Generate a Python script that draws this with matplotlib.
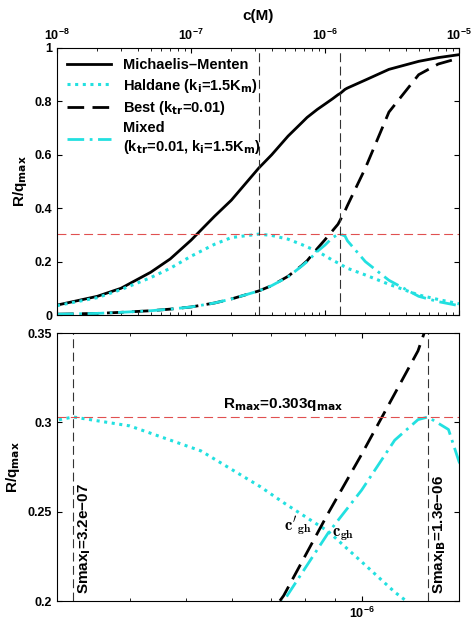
import matplotlib
matplotlib.use("Agg")
import matplotlib.pyplot as plt
from matplotlib.ticker import LogLocator, NullFormatter, FixedLocator

plt.rcParams['font.family'] = ['Liberation Sans', 'DejaVu Sans']
plt.rcParams['font.weight'] = 'bold'
plt.rcParams['mathtext.default'] = 'bf'

c = [1e-8, 2e-8, 3e-8, 5e-8, 7e-8, 1e-7, 1.5e-7, 2e-7, 3.2e-7, 4e-7, 5.3e-7, 6.7e-7,
     7.35e-7, 8.76e-7, 1e-6, 1.14e-6, 1.25e-6, 1.3e-6, 1.41e-6, 1.47e-6,
     2e-6, 3e-6, 5e-6, 7e-6, 1e-5]
mm = [0.037, 0.07, 0.10, 0.16, 0.21, 0.28, 0.37, 0.43, 0.55, 0.60, 0.67, 0.72,
      0.74, 0.77, 0.79, 0.81, 0.825, 0.83, 0.845, 0.85, 0.88, 0.92, 0.95, 0.964, 0.975]
haldane = [0.035, 0.065, 0.095, 0.14, 0.175, 0.22, 0.265, 0.29, 0.303, 0.298, 0.284, 0.264,
           0.255, 0.239, 0.222, 0.205, 0.195, 0.19, 0.18, 0.175, 0.15, 0.115, 0.075, 0.058, 0.042]
best = [0.003, 0.006, 0.01, 0.016, 0.022, 0.03, 0.045, 0.06, 0.09, 0.11, 0.145, 0.185,
        0.203, 0.249, 0.282, 0.316, 0.34, 0.356, 0.39, 0.41, 0.55, 0.76, 0.9, 0.94, 0.962]
mixed = [0.003, 0.006, 0.01, 0.016, 0.022, 0.03, 0.045, 0.06, 0.09, 0.11, 0.143, 0.183,
         0.2, 0.238, 0.262, 0.29, 0.3015, 0.303, 0.296, 0.278, 0.2, 0.13, 0.07, 0.05, 0.035]
rmax = 0.303
smax_i = 3.2e-7
smax_ib = 1.3e-6

fig = plt.figure(figsize=(4.74, 6.2), dpi=100)
ax1 = fig.add_axes([57/474, 1-315/620, 402/474, 267/620])
ax2 = fig.add_axes([57/474, 1-601/620, 402/474, 268/620])

cyan = '#22e0e0'
for ax in (ax1, ax2):
    ax.plot(c, mm, color='black', lw=2, label='Michaelis\u2013Menten')
    ax.plot(c, haldane, color=cyan, lw=2.2, ls=(0, (1, 1.5)), label='Haldane (k$_i$=1.5K$_m$)')
    ax.plot(c, best, color='black', lw=2, ls=(0, (6, 3)), label='Best (k$_{tr}$=0.01)')
    ax.plot(c, mixed, color=cyan, lw=2, ls=(0, (6, 2, 1, 2)),
            label='Mixed\n(k$_{tr}$=0.01, k$_i$=1.5K$_m$)')
    ax.axhline(rmax, color='#e05050', lw=0.8, ls=(0, (8, 4)))
    for v in (smax_i, smax_ib):
        ax.axvline(v, color='#333333', lw=0.8, ls=(0, (8, 4)))
    ax.set_xscale('log')
    ax.set_ylabel('R/q$_{max}$', fontsize=11, fontweight='bold')
    ax.tick_params(which='both', direction='in', top=True, right=True, labelsize=9)

ax1.set_xlim(1e-8, 1e-5)
ax1.set_ylim(0, 1)
ax1.set_yticks([0, 0.2, 0.4, 0.6, 0.8, 1])
ax1.set_yticklabels(['0', '0.2', '0.4', '0.6', '0.8', '1'])
ax1.tick_params(labelbottom=False, labeltop=True)
ax1.xaxis.set_label_position('top')
ax1.set_xlabel('c(M)', fontsize=11, fontweight='bold', labelpad=6)
ax1.legend(loc='upper left', frameon=False, fontsize=10.5, handlelength=3,
           borderaxespad=0.3, labelspacing=0.3)

ax2.set_xlim(3.0e-7, 1.47e-6)
ax2.set_ylim(0.2, 0.35)
ax2.set_yticks([0.2, 0.25, 0.3, 0.35])
ax2.set_yticklabels(['0.2', '0.25', '0.3', '0.35'])
ax2.xaxis.set_major_locator(FixedLocator([1e-6]))
ax2.xaxis.set_minor_locator(LogLocator(subs=range(2, 10)))
ax2.xaxis.set_minor_formatter(NullFormatter())
ax2.text(7.35e-7, 0.3055, 'R$_{max}$=0.303q$_{max}$', fontsize=11, ha='center', va='bottom')
ax2.text(smax_i * 1.012, 0.204, 'Smax$_I$=3.2e\u221207', rotation=90, fontsize=11,
         ha='left', va='bottom')
ax2.text(smax_ib * 1.012, 0.204, 'Smax$_{IB}$=1.3e\u221206', rotation=90, fontsize=11,
         ha='left', va='bottom')
ax2.text(8.2e-7, 0.235, "$c'_{gh}$", fontsize=12, math_fontfamily='cm',
         fontweight='normal', ha='right', va='bottom')
ax2.text(8.9e-7, 0.2325, "$c_{gh}$", fontsize=12, math_fontfamily='cm',
         fontweight='normal', ha='left', va='bottom')

fig.savefig('out.png', dpi=100)
